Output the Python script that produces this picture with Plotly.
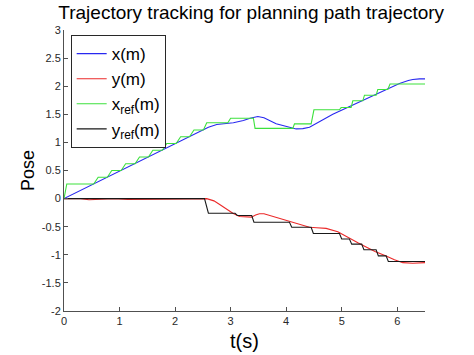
import plotly.graph_objects as go

# ---- data ----
t_x = [0, 0.5, 1.0, 1.5, 2.0, 2.45, 2.6, 2.75, 2.9, 3.05, 3.23, 3.35, 3.49, 3.6, 3.82, 4.0, 4.18, 4.3, 4.42, 4.84, 5.44, 6.04, 6.2, 6.28, 6.4, 6.52]
x_m = [0, 0.243, 0.486, 0.73, 0.97, 1.19, 1.27, 1.32, 1.34, 1.35, 1.39, 1.43, 1.46, 1.44, 1.33, 1.28, 1.24, 1.245, 1.27, 1.50, 1.78, 2.05, 2.10, 2.12, 2.13, 2.13]

t_y = [0, 0.3, 0.45, 0.6, 0.9, 1.15, 1.4, 1.7, 2.0, 2.3, 2.57, 2.7, 2.81, 2.92, 3.04, 3.16, 3.26, 3.375, 3.45, 3.52, 3.6, 3.70, 3.9, 4.06, 4.2, 4.30, 4.42, 4.55, 4.72, 4.93, 5.14, 5.3, 5.44, 5.6, 5.80, 5.95, 6.10, 6.28, 6.5]
y_m = [0, 0, -0.02, -0.01, 0, -0.015, -0.01, -0.015, -0.01, -0.005, 0, -0.04, -0.11, -0.18, -0.26, -0.32, -0.33, -0.33, -0.29, -0.27, -0.27, -0.30, -0.35, -0.40, -0.44, -0.48, -0.51, -0.52, -0.53, -0.59, -0.71, -0.79, -0.86, -0.94, -1.02, -1.09, -1.14, -1.15, -1.14]

t_xref = [0, 0.05, 0.535, 0.615, 0.78, 0.86, 1.03, 1.11, 1.28, 1.36, 1.52, 1.6, 1.77, 1.85, 2.02, 2.1, 2.26, 2.34, 2.51, 2.57, 2.95, 3.0, 3.41, 3.44, 4.12, 4.15, 4.45, 4.5, 4.96, 4.99, 5.17, 5.2, 5.38, 5.41, 5.62, 5.65, 5.83, 5.87, 6.5]
x_ref = [0, 0.26, 0.26, 0.38, 0.38, 0.50, 0.50, 0.62, 0.62, 0.74, 0.74, 0.86, 0.86, 0.98, 0.98, 1.10, 1.10, 1.22, 1.22, 1.35, 1.35, 1.43, 1.43, 1.25, 1.25, 1.33, 1.33, 1.58, 1.58, 1.62, 1.62, 1.74, 1.74, 1.84, 1.84, 1.94, 1.94, 2.04, 2.04]

t_yref = [0, 2.53, 2.60, 3.08, 3.12, 3.38, 3.42, 4.06, 4.10, 4.45, 4.49, 4.96, 5.00, 5.14, 5.18, 5.36, 5.40, 5.62, 5.66, 5.80, 5.84, 6.5]
y_ref = [0, 0, -0.26, -0.26, -0.30, -0.30, -0.42, -0.42, -0.51, -0.51, -0.62, -0.62, -0.72, -0.72, -0.81, -0.81, -0.91, -0.91, -1.02, -1.02, -1.12, -1.12]

y_ticks = [-2, -1.5, -1, -0.5, 0, 0.5, 1, 1.5, 2, 2.5, 3]
y_tick_text = ["-2", "-1.5", "-1", "-0.5", "0", "0.5", "1", "1.5", "2", "2.5", "3"]
x_ticks = [0, 1, 2, 3, 4, 5, 6]

FONT = "Liberation Sans, Arial, sans-serif"

fig = go.Figure()
fig.add_trace(go.Scatter(x=t_x, y=x_m, mode="lines", name="x(m)",
                         line=dict(color="rgb(40,40,240)", width=1.1)))
fig.add_trace(go.Scatter(x=t_y, y=y_m, mode="lines", name="y(m)",
                         line=dict(color="rgb(235,40,40)", width=1.1)))
fig.add_trace(go.Scatter(x=t_xref, y=x_ref, mode="lines", name="x<sub>ref</sub>(m)",
                         line=dict(color="rgb(60,225,60)", width=1.1)))
fig.add_trace(go.Scatter(x=t_yref, y=y_ref, mode="lines", name="y<sub>ref</sub>(m)",
                         line=dict(color="rgb(25,25,25)", width=1.1)))

fig.update_layout(
    width=474, height=355,
    margin=dict(l=64, r=48.5, t=30, b=44),
    paper_bgcolor="white", plot_bgcolor="white",
    font=dict(family=FONT, color="black"),
    title=dict(text="Trajectory tracking for planning path trajectory",
               font=dict(size=19, family=FONT, color="black"),
               x=0.53, xanchor="center", y=0.965, yanchor="middle"),
    showlegend=True,
    legend=dict(x=0.0185, y=0.982, xanchor="left", yanchor="top",
                bgcolor="white", bordercolor="rgb(40,40,40)", borderwidth=1,
                font=dict(size=17, family=FONT, color="black"),
                tracegroupgap=0),
    xaxis=dict(range=[0, 6.5], tickvals=x_ticks, ticks="inside", ticklen=4,
               tickcolor="rgb(80,80,80)", showline=True, linecolor="rgb(80,80,80)",
               linewidth=1, showgrid=False, zeroline=False, mirror=False, automargin=False,
               tickfont=dict(size=11, color="rgb(40,40,40)"),
               title=dict(text="t(s)", font=dict(size=20, color="black"), standoff=7)),
    yaxis=dict(range=[-2, 3], tickvals=y_ticks, ticktext=y_tick_text, ticks="inside", ticklen=4,
               tickcolor="rgb(80,80,80)", showline=True, linecolor="rgb(80,80,80)",
               linewidth=1, showgrid=False, zeroline=False, mirror=False, automargin=False,
               tickfont=dict(size=11, color="rgb(40,40,40)"),
               title=dict(text="Pose", font=dict(size=18, color="black"), standoff=2)),
)

fig.write_html("out.html", config={"displayModeBar": False},
               post_script="document.body.style.margin='0px';document.body.style.padding='0px';")
